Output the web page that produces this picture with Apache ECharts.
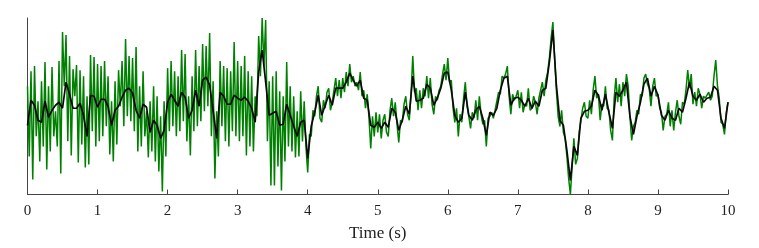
<!DOCTYPE html>
<html>
<head>
<meta charset="utf-8">
<script src="https://cdn.jsdelivr.net/npm/echarts@6/dist/echarts.min.js"></script>
<style>html,body{margin:0;padding:0;background:#fff}#c{width:759px;height:248px}</style>
</head>
<body>
<div id="c"></div>
<script>
// Raw signal, sampled every 0.025 s (amplitude, arbitrary units)
const rawStep = 0.025;
const rawSignal = [
20,-50,35,-73,40,-30,5,-55,25,-40,44,-63,20,-45,39,-30,-5,-40,45,-67,74,20,71,-35,50,-49,37,10,41,-56,36,-38,30,-61,10,-58,51,-25,49,-40,
42,-35,40,-30,45,-20,30,-48,5,-55,25,-38,36,0,45,-20,67,-10,50,-15,48,-25,59,-45,20,-40,35,-30,-5,-51,5,-45,20,-55,10,-65,-10,-85,5,-50,
38,-25,45,-20,35,-30,30,-25,56,-15,52,-35,10,-49,30,-25,56,-20,40,-15,62,-5,60,0,73,-30,25,-72,-5,-50,45,-20,40,-35,38,-40,35,-25,64,-30,
45,-35,40,-30,50,-49,35,-40,30,-45,10,-10,70,30,88,40,86,-35,25,-79,30,-79,35,-60,15,-84,10,-55,44,-40,20,-45,10,-51,-5,-50,15,-35,5,-40,
-66,-28,-30,-4,-10,10,20,-12,-16,6,-2,14,18,-4,4,16,28,10,26,8,28,14,34,20,42,24,30,20,24,16,34,10,16,-2,12,-12,-42,-10,-30,-6,
-26,-8,-32,-14,-8,-26,-30,-4,8,-10,4,-18,-36,-14,-16,2,10,-8,-14,12,50,14,18,-4,16,-2,18,10,30,8,28,2,-8,10,6,16,20,32,42,26,
48,24,26,-2,-16,-2,-30,-8,-16,8,24,0,-10,-22,-6,-12,6,-14,10,-8,-18,-14,-40,-12,-10,-6,-12,-4,-4,14,12,30,28,32,40,10,-8,12,6,10,
16,-2,14,-6,2,0,18,-4,-2,10,4,-8,8,16,24,10,26,34,48,68,84,48,16,-10,-20,-4,-26,-32,-50,-72,-88,-60,-32,-58,-52,-26,-14,-2,4,-10,
-12,6,-8,16,30,8,12,-14,2,0,20,-2,-4,-24,-34,8,28,4,22,0,24,10,32,20,-10,-34,-20,-16,-4,-8,12,10,28,32,22,18,0,20,28,10,
12,-2,-6,-24,-10,-8,4,-20,-4,-24,-6,6,-10,-18,4,2,16,36,18,32,2,14,0,18,12,-2,10,8,8,14,6,10,30,46,20,8,-16,-18,-28,-6,4
];
// Filtered signal, sampled every 0.05 s
const filtStep = 0.05;
const filtSignal = [
-19,6,1,-14,-16,5,-11,-4,1,4,-2,24,12,-2,-2,3,-9,-30,11,10,
-1,7,7,0,-19,-4,0,9,16,18,13,-4,-12,2,-1,-26,-14,-19,-32,-24,
4,12,6,0,14,9,-12,-4,16,0,26,29,21,-4,-32,14,10,2,2,11,
8,6,9,5,-2,-16,34,56,24,-9,-7,-5,-19,-18,2,-9,-20,-30,-16,-14,
-52,-20,-6,11,-9,1,11,1,18,18,18,24,33,26,20,26,8,6,-19,-21,
-16,-22,-16,-21,-2,-6,-24,-14,0,-8,30,5,6,8,22,18,1,8,18,33,
34,16,-9,-16,-12,14,-9,-14,-4,0,-12,-29,-6,-9,-2,16,28,30,1,8,
9,6,0,8,-2,5,0,16,18,44,76,21,-14,-19,-44,-74,-40,-49,-12,-5,
-4,0,16,11,-4,12,-6,-22,14,10,16,24,-10,-28,-10,4,22,28,10,20,
11,-9,-14,-4,-12,-14,-2,-6,8,24,10,6,12,4,8,9,20,16,-12,-22,4
];
const xTicks = [0,1,2,3,4,5,6,7,8,9,10];
const xTitle = 'Time (s)';

const rawData = rawSignal.map((v, i) => [+(i * rawStep).toFixed(3), v]);
const filtData = filtSignal.map((v, i) => [+(i * filtStep).toFixed(3), v]);

const chart = echarts.init(document.getElementById('c'), null, {renderer: 'canvas'});
const axisColor = '#444';
const font = '"Liberation Serif", "Times New Roman", serif';
chart.setOption({
  animation: false,
  backgroundColor: '#fff',
  grid: {left: 27.5, right: 31, top: 18, bottom: 53.5, containLabel: false},
  xAxis: {
    type: 'value', min: xTicks[0], max: xTicks[xTicks.length - 1], interval: 1,
    name: xTitle, nameLocation: 'middle', nameGap: 31,
    nameTextStyle: {fontFamily: font, fontSize: 17, color: '#222'},
    axisLine: {show: true, onZero: false, lineStyle: {color: axisColor, width: 1}},
    axisTick: {show: true, inside: true, length: 5, lineStyle: {color: axisColor}},
    axisLabel: {fontFamily: font, fontSize: 15, color: '#222', margin: 9},
    splitLine: {show: false}
  },
  yAxis: {
    type: 'value', min: -88, max: 88,
    axisLine: {show: true, onZero: false, lineStyle: {color: axisColor, width: 1}},
    axisTick: {show: false}, axisLabel: {show: false}, splitLine: {show: false}
  },
  series: [
    {type: 'line', data: rawData, showSymbol: false, lineStyle: {color: '#008000', width: 1.5}, z: 2},
    {type: 'line', data: filtData, showSymbol: false, lineStyle: {color: '#0a0a0a', width: 1.7}, z: 3}
  ]
});
</script>
</body>
</html>
